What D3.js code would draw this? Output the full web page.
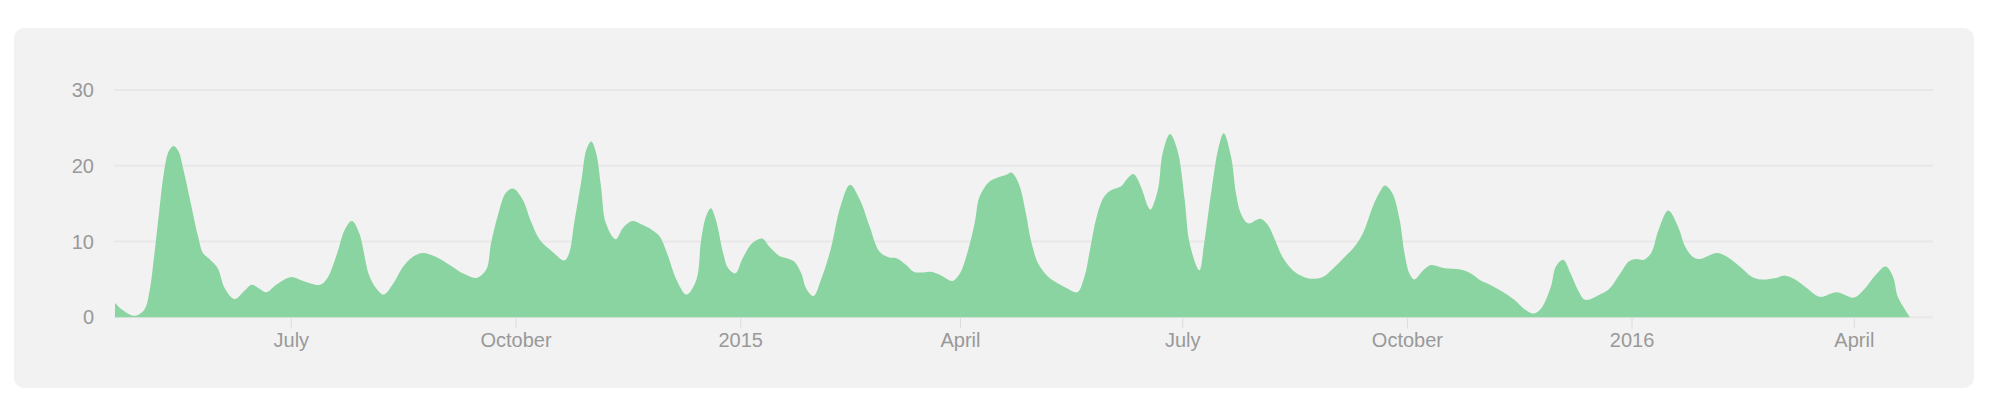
<!DOCTYPE html>
<html>
<head>
<meta charset="utf-8">
<script src="https://cdn.jsdelivr.net/npm/d3@7"></script>
<style>
  body { margin: 0; background: #fff; }
  text { font-family: "Helvetica Neue", Helvetica, Arial, "Liberation Sans", sans-serif; }
</style>
</head>
<body>
<svg id="chart"></svg>
<script>
// weekly contributions as (days since first week, value)
var startDate = new Date(2014, 3, 20);
var endDate = new Date(2016, 3, 24);

var days = [0,3,8,12,14,16,18,20,22,24,26,28,31,34,36,39,42,45,49,53,56,59,62,66,72,77,84,87,91,94,97,100,
  104,107,110,114,118,122,126,132,137,143,148,152,154,157,160,163,167,170,174,179,184,186,188,191,193,195,197,199,201,205,208,
  212,216,220,223,226,230,234,238,240,242,244,246,249,251,254,257,261,265,268,272,275,278,281,283,286,289,293,297,301,305,309,313,
  317,320,324,327,330,334,337,340,343,346,349,352,354,358,361,365,367,370,373,375,378,382,386,390,394,397,399,402,405,408,412,414,
  417,420,423,424,427,429,432,435,438,440,444,446,449,452,454,457,459,461,464,469,472,475,478,483,487,491,495,499,503,507,511,515,
  518,520,523,526,528,530,532,536,539,544,551,555,559,563,568,573,577,581,584,588,590,593,596,599,602,608,612,616,620,623,626,629,
  632,636,640,643,646,649,656,661,666,670,674,680,684,688,693,698,705,712,716,721,725,728,730,733,735];

var commits = [1.9,1.0,0.2,1.0,3.2,8.0,13.7,19.0,21.9,22.6,21.9,19.5,15.1,10.7,8.5,7.6,6.5,3.8,2.4,3.5,4.3,3.8,3.3,4.3,5.3,4.8,4.3,5.2,8.5,11.5,12.7,11.1,
  5.6,3.8,3.0,4.5,6.7,8.0,8.5,7.9,6.9,5.7,5.2,6.3,9.8,13.7,16.4,17.0,15.5,12.9,10.2,8.7,7.5,8.5,12.4,18.1,22.1,23.2,21.7,17.3,12.4,10.3,11.8,
  12.7,12.2,11.5,10.7,8.5,4.9,3.0,4.9,10.2,13.3,14.4,12.9,8.5,6.5,5.8,7.8,9.8,10.4,9.3,8.1,7.8,7.4,5.8,3.8,2.8,4.9,8.9,14.6,17.5,15.5,12.0,8.7,
  7.9,7.8,6.9,6.0,5.9,6.0,5.7,5.2,4.8,5.8,8.5,12.4,15.9,17.9,18.4,18.8,19.1,17.7,13.7,10.2,7.1,5.4,4.5,3.8,3.3,5.4,8.5,13.3,15.9,16.8,17.3,18.1,
  18.9,17.3,14.6,14.2,16.8,21.7,24.2,22.1,15.5,9.8,6.2,9.8,16.8,22.6,24.3,21.2,16.4,13.7,12.4,13.0,12.2,10.2,8.0,6.0,5.3,5.1,5.4,6.5,7.8,9.1,11.1,14.6,
  16.6,17.4,16.4,12.9,8.5,5.8,5.0,6.3,6.9,6.5,6.3,5.8,4.9,4.3,3.4,2.3,1.1,0.5,1.2,4.1,6.7,7.6,5.8,3.6,2.3,3.0,3.8,5.6,7.4,7.7,7.6,8.5,
  11.5,14.1,12.0,9.3,8.0,7.7,8.5,7.8,6.5,5.4,5.0,5.2,5.5,5.0,3.8,2.7,3.3,2.6,3.6,5.6,6.7,5.4,2.7,1.0,0];

var yTicks = [0, 10, 20, 30];

var svgWidth = 2004;
var svgHeight = 396;
var svg = d3.select("#chart")
    .attr("width", svgWidth)
    .attr("height", svgHeight);

var data = days.map(function(d, i) {
  return { date: new Date(startDate.getTime() + d * 864e5), value: commits[i] };
});

// grey card behind the chart
svg.append("rect")
    .attr("x", 14)
    .attr("y", 28)
    .attr("width", 1960)
    .attr("height", 360)
    .attr("rx", 10)
    .attr("fill", "#f2f2f2");

var x = d3.scaleTime()
    .domain([startDate, endDate])
    .range([115, 1910]);

var y = d3.scaleLinear()
    .domain([0, 30])
    .range([317.3, 90]);

// horizontal grid
svg.selectAll(".grid")
    .data(yTicks)
    .enter()
    .append("line")
    .attr("class", "grid")
    .attr("x1", 114)
    .attr("x2", 1933)
    .attr("y1", function(d) { return y(d); })
    .attr("y2", function(d) { return y(d); })
    .attr("stroke", "#e8e8e8")
    .attr("stroke-width", 2);

svg.selectAll(".ylabel")
    .data(yTicks)
    .enter()
    .append("text")
    .attr("class", "ylabel")
    .attr("x", 94)
    .attr("y", function(d) { return y(d); })
    .attr("dy", "0.35em")
    .attr("text-anchor", "end")
    .attr("font-size", 20)
    .attr("fill", "#999")
    .text(function(d) { return d; });

var area = d3.area()
    .x(function(d) { return x(d.date); })
    .y0(y(0))
    .y1(function(d) { return y(d.value); })
    .curve(d3.curveCatmullRom.alpha(0.5));

svg.append("path")
    .datum(data)
    .attr("d", area)
    .attr("fill", "#8ad4a1");

var xAxis = svg.append("g")
    .attr("transform", "translate(0," + y(0) + ")")
    .call(d3.axisBottom(x).ticks(d3.timeMonth.every(3)).tickSize(11).tickPadding(5));

xAxis.select(".domain").remove();
xAxis.selectAll(".tick line").attr("stroke", "#dcdcdc");
xAxis.selectAll(".tick text")
    .attr("font-size", 20)
    .attr("font-family", "\"Helvetica Neue\", Helvetica, Arial, \"Liberation Sans\", sans-serif")
    .attr("fill", "#999");
</script>
</body>
</html>
